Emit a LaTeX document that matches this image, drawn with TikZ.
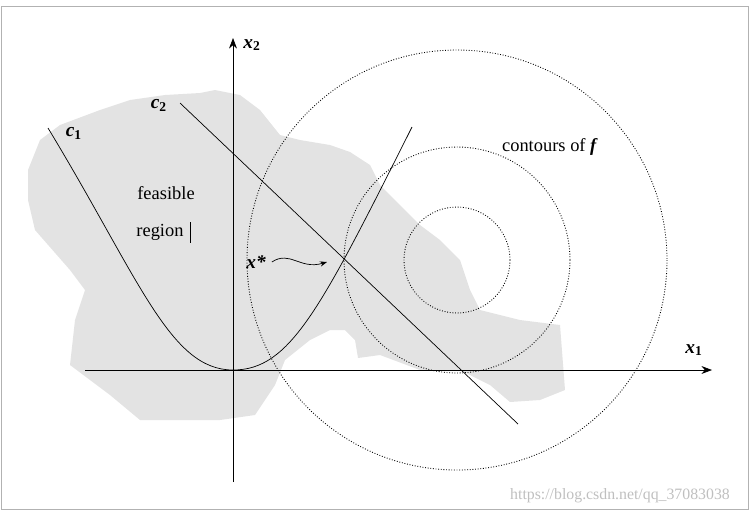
\documentclass[tikz,border=0pt]{standalone}
\usepackage{fontspec}
\setmainfont{Liberation Serif}
\usetikzlibrary{arrows.meta}
\begin{document}
\begin{tikzpicture}[x=0.02cm,y=-0.02cm,
  lab/.style={font=\fontsize{11}{13}\selectfont\bfseries\itshape},
  txt/.style={font=\fontsize{10.5}{13}\selectfont},
  contour/.style={densely dotted, line width=0.5pt}]
\useasboundingbox (0,0) rectangle (750,512);
\draw[gray!60] (1,6) rectangle (748,509);
\fill[gray!22] (28,170)--(40,140)--(60,125)--(100,110)--(130,100)--(165,95)--(200,93)--(215,90)--(240,95)--(260,110)--(280,135)--(300,140)--(330,145)--(350,152)--(370,165)--(380,185)--(400,205)--(420,225)--(440,240)--(460,260)--(470,290)--(480,310)--(520,320)--(560,325)--(565,390)--(540,400)--(510,402)--(490,385)--(460,370)--(420,370)--(380,355)--(358,358)--(355,340)--(345,330)--(330,330)--(310,340)--(285,360)--(275,385)--(255,415)--(220,420)--(140,420)--(110,395)--(70,365)--(75,320)--(85,290)--(70,270)--(35,230)--(28,200)--cycle;
\coordinate (o) at (457,260);
\draw[contour] (o) circle[radius=53];
\draw[contour] (o) circle[radius=113];
\draw[contour] (o) circle[radius=210];
\coordinate (xa) at (85,370); \coordinate (xb) at (712,370);
\coordinate (ya) at (233,482); \coordinate (yb) at (233,38);
\draw[-{Stealth[length=6pt]}] (xa)--(xb);
\draw[-{Stealth[length=6pt]}] (ya)--(yb);
\node[lab] (x1) at (694,350) {x$_{\mathbf{1}}$};
\node[lab] (x2) at (252,45) {x$_{\mathbf{2}}$};
\coordinate (p0) at (48,128); \coordinate (pv) at (233,370); \coordinate (p1) at (412,127);
\draw (p0) .. controls (140,280) and (170,370) .. (pv) .. controls (290,370) and (320,310) .. (p1);
\coordinate (l0) at (180,103); \coordinate (l1) at (518,424);
\draw (l0)--(l1);
\node[lab] (c1) at (74,133) {c$_{\mathbf{1}}$};
\node[lab] (c2) at (159,105) {c$_{\mathbf{2}}$};
\node[txt] (fe) at (166,193) {feasible};
\node[txt] (re) at (160,232) {region};
\draw (190,222)--(190,243);
\node[txt] (co) at (550,147) {contours of \textbf{\textit{f}}};
\node[lab] (xs) at (256,262) {x*};
\coordinate (xp) at (327,262);
\draw[-{Stealth[length=4pt]}] (xs.east) .. controls (290,250) and (300,270) .. (xp);
\node[font=\fontsize{9}{10}\selectfont, text=gray!50] (wm) at (620,496) {https://blog.csdn.net/qq\_37083038};
\end{tikzpicture}
\end{document}
